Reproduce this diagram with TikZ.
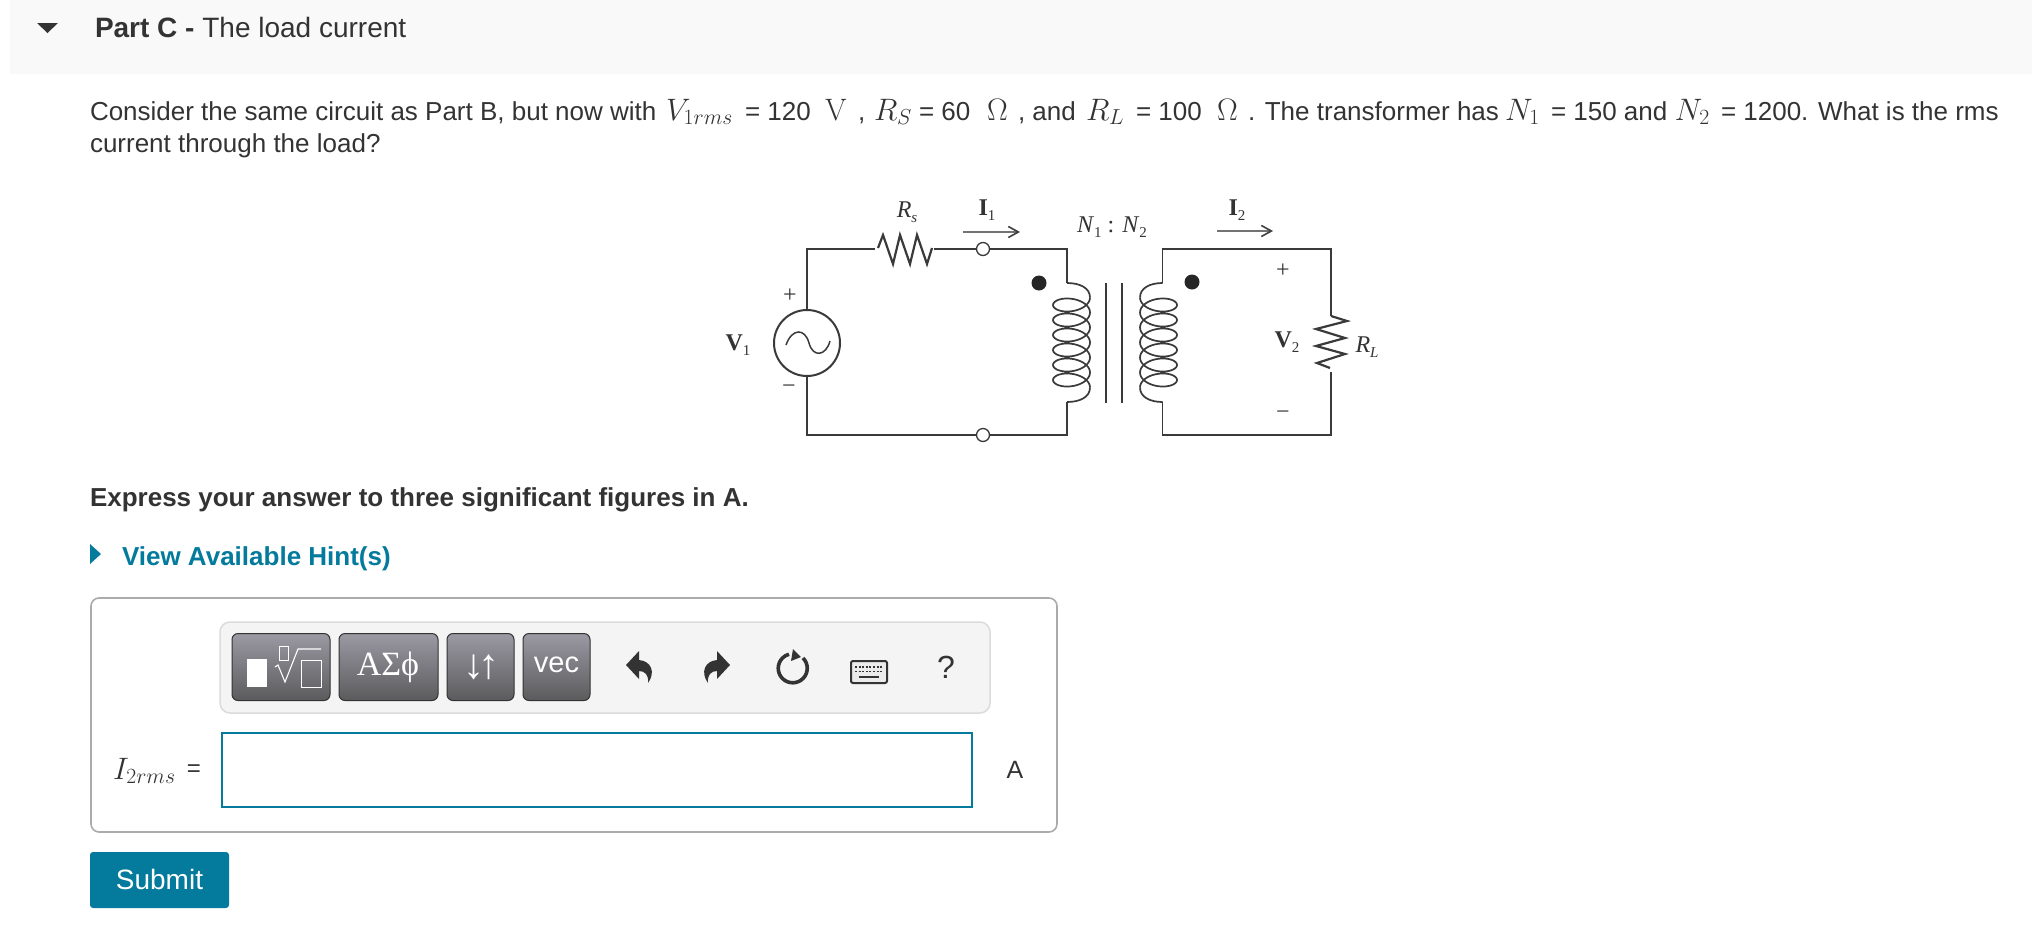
\RequirePackage{fix-cm}
\documentclass[tikz,border=0pt]{standalone}
\usepackage[no-math]{fontspec}
\setmainfont{Liberation Sans}
\newfontfamily\serifcirc{Liberation Serif}
\usetikzlibrary{arrows.meta}
\definecolor{ink}{HTML}{333333}
\definecolor{teal}{HTML}{047A9C}
\definecolor{wire}{HTML}{3A3A3A}
\definecolor{btop}{HTML}{9B99A3}
\definecolor{bbot}{HTML}{5B5B5D}
\newcommand{\fsz}[1]{\fontsize{#1}{#1}\selectfont}
\newcommand{\mth}[1]{{\fsz{31}$#1$}}
\newcommand{\pc}[2]{\makebox[#1pt][l]{#2}}
\newcommand{\sbs}[1]{\raisebox{-0.22em}{\fontsize{15}{15}\selectfont #1}}
\tikzset{
  txt/.style={anchor=base west,inner sep=0pt,outer sep=0pt,text=ink,font=\fsz{26}},
  ctext/.style={anchor=center,inner sep=0pt,outer sep=0pt,text=ink},
  clab/.style={ctext,font=\serifcirc\fsz{24}},
  wireline/.style={draw=wire,line width=1.7pt},
  term/.style={circle,draw=wire,fill=white,line width=1.3pt,minimum size=13pt,inner sep=0pt},
  blackdot/.style={circle,fill=black!85,minimum size=15pt,inner sep=0pt},
  source/.style={circle,draw=wire,fill=white,line width=2pt,minimum size=66pt,inner sep=0pt},
  curarrow/.style={draw=black!55,line width=1.6pt,-{Straight Barb[length=10pt,width=11pt,black!75]}},
  toolbtn/.style={draw=black!80,line width=1pt,rounded corners=6pt,top color=btop,bottom color=bbot},
  coilline/.style={draw=wire,line width=1.7pt},
  zigzag/.style={draw=wire,line width=2.2pt},
}
\begin{document}
\begin{tikzpicture}[x=1pt,y=-1pt]
\useasboundingbox (0,0) rectangle (2032,951);
\fill[white] (0,0) rectangle (2032,951);
% header
\fill[black!2.5] (10,0) rectangle (2032,74);
\fill[ink] (37,23) -- (58,23) -- (47.5,33) -- cycle;
\node[txt,font=\fsz{28}] (title) at (95,37) {\textbf{Part C -} The load current};
% question
\node[txt] (q1) at (90,120) {\pc{576}{Consider the same circuit as Part B, but now with}\pc{79}{\mth{V_{1rms}}}\pc{80}{= 120}\pc{33}{\mth{\mathrm{V}}}\pc{16}{,}\pc{45}{\mth{R_S}}\pc{68}{= 60}\pc{31}{\mth{\mathrm{\Omega}}}\pc{68}{, and}\pc{50}{\mth{R_L}}\pc{81}{= 100}\pc{31}{\mth{\mathrm{\Omega}}}\pc{257}{. The transformer has}\pc{46}{\mth{N_1}}\pc{124}{= 150 and}\pc{46}{\mth{N_2}}= 1200. What is the rms};
\node[txt] (q2) at (90,152) {current through the load?};
% circuit
\coordinate (tl) at (807,249);
\coordinate (bl) at (807,435);
\node[source] (src) at (807,343) {};
\draw[wire,line width=1.5pt] (786,345) .. controls (792,328) and (805,328) .. (809,343) .. controls (813,358) and (826,356) .. (830,341);
\node[term] (t1) at (983,249) {};
\node[term] (t2) at (983,435) {};
\coordinate (rsa) at (875,249);
\coordinate (rsb) at (934,249);
\coordinate (cla) at (1067,249);
\coordinate (clb) at (1067,283);
\coordinate (clc) at (1067,402);
\coordinate (cld) at (1067,435);
\coordinate (cra) at (1162.5,249);
\coordinate (crb) at (1162.5,283);
\coordinate (crc) at (1162.5,402);
\coordinate (crd) at (1162.5,435);
\coordinate (tr) at (1331,249);
\coordinate (br) at (1331,435);
\coordinate (rla) at (1331,316);
\coordinate (rlb) at (1331,372);
\draw[wireline] (src.north) -- (tl) -- (rsa);
\draw[wireline] (rsb) -- (t1) -- (cla) -- (clb);
\draw[wireline] (src.south) -- (bl) -- (t2);
\draw[wireline] (t2) -- (cld) -- (clc);
\draw[wireline] (crb) -- (cra) -- (tr) -- (rla);
\draw[wireline] (crc) -- (crd) -- (br) -- (rlb);
\draw[zigzag] (878,248) -- (883,235) -- (893,264) -- (900,235) -- (910,264) -- (917,235) -- (927,264) -- (932,248);
\draw[zigzag] (rla) -- (1347,321) -- (1316,329) -- (1345,338) -- (1316,346) -- (1345,354) -- (1317,363) -- (1330,368);
% coils
\draw[coilline] plot[smooth,domain=0:2160,samples=217,variable=\t] ({1071.5+18.5*cos(\t)},{297.5+\t/24+10*sin(\t)});
\draw[coilline] plot[smooth,domain=0:2160,samples=217,variable=\t] ({1158.5-18.5*cos(\t)},{297.5+\t/24+10*sin(\t)});
\draw[coilline] (clb) .. controls (1080,283) and (1090,288) .. (1090,297.5);
\draw[coilline] (clc) .. controls (1080,402) and (1090,397) .. (1090,387.5);
\draw[coilline] (crb) .. controls (1150,283) and (1140,288) .. (1140,297.5);
\draw[coilline] (crc) .. controls (1150,402) and (1140,397) .. (1140,387.5);
\coordinate (corea) at (1106,283);
\coordinate (coreb) at (1106,403);
\coordinate (corec) at (1122,283);
\coordinate (cored) at (1122,403);
\draw[wireline,line width=2pt] (corea) -- (coreb);
\draw[wireline,line width=2pt] (corec) -- (cored);
\node[blackdot] (d1) at (1039,283) {};
\node[blackdot] (d2) at (1192,282) {};
% circuit labels
\node[clab] (rs) at (907,212) {\textit{R}\sbs{\textit{s}}};
\node[clab] (i1) at (987,210) {\textbf{I}\sbs{1}};
\node[clab] (n) at (1112,227) {\textit{N}\sbs{1} : \textit{N}\sbs{2}};
\node[clab] (i2) at (1237,210) {\textbf{I}\sbs{2}};
\node[clab] (v1) at (738,345) {\textbf{V}\sbs{1}};
\node[clab] (v2) at (1287,342) {\textbf{V}\sbs{2}};
\node[clab] (rl) at (1367,347) {\textit{R}\sbs{\textit{L}}};
\node[clab] (p1) at (790,296) {+};
\node[clab] (m1) at (789,389) {−};
\node[clab] (p2) at (1283,271) {+};
\node[clab] (m2) at (1283,415) {−};
\coordinate (a1s) at (963,232);
\coordinate (a1e) at (1020,232);
\coordinate (a2s) at (1217,231);
\coordinate (a2e) at (1273,231);
\draw[curarrow] (a1s) -- (a1e);
\draw[curarrow] (a2s) -- (a2e);
% instructions
\node[txt,font=\bfseries\fsz{26}] (exp) at (90,506) {Express your answer to three significant figures in A.};
\fill[teal] (90,544) -- (101,554) -- (90,564) -- cycle;
\node[txt,font=\bfseries\fsz{26},text=teal] (hint) at (122,565) {View Available Hint(s)};
% answer box
\draw[draw=black!33,line width=1.6pt,rounded corners=8pt,fill=white] (91,598) rectangle (1057,832);
\draw[draw=black!14,line width=1.5pt,rounded corners=10pt,fill=black!4.5] (220,622) rectangle (990,713);
% buttons
\node[toolbtn,minimum width=98pt,minimum height=67pt,inner sep=0pt] (b1) at (281,667) {};
\node[toolbtn,minimum width=99pt,minimum height=67pt,inner sep=0pt] (b2) at (388.5,667) {};
\node[toolbtn,minimum width=67pt,minimum height=67pt,inner sep=0pt] (b3) at (480.5,667) {};
\node[toolbtn,minimum width=67pt,minimum height=67pt,inner sep=0pt] (b4) at (556.5,667) {};
\fill[white] (247,659) rectangle (267,687);
\draw[white,line width=1pt] (279,646) rectangle (288,660);
\draw[white,line width=1.1pt] (275,667) -- (278,665) -- (285,682) -- (298,649) -- (321,649);
\draw[white,line width=1pt] (301,660) rectangle (321,687);
\node[ctext,text=white,font=\serifcirc\fsz{34}] (t2b) at (388,667) {ΑΣ\char"03D5};
\node[ctext,text=white,font=\serifcirc\fsz{42}] (t3b) at (481,667) {↓\kern-6pt↑};
\node[ctext,text=white,font=\fsz{29}] (t4b) at (556.5,665) {vec};
% undo/redo
\fill[ink] (626,665) -- (639,651) -- (639,660) .. controls (651,661) and (656,672) .. (648,683) .. controls (649,675) and (645,671) .. (639,671) -- (639,679) -- cycle;
\fill[ink] (730,665) -- (717,651) -- (717,660) .. controls (705,661) and (700,672) .. (708,683) .. controls (707,675) and (711,671) .. (717,671) -- (717,679) -- cycle;
% reload
\draw[ink,line width=3.6pt] (803,658) arc [start angle=45,end angle=-255,radius=14.5pt];
\fill[ink] (793,649) -- (801,657) -- (791,661) -- cycle;
% keyboard
\draw[ink,line width=2pt,rounded corners=2pt,fill=black!8] (851,661) rectangle (887,683);
\draw[ink,line width=1.8pt,dash pattern=on 2pt off 1.6pt] (855,667) -- (883,667);
\draw[ink,line width=1.8pt,dash pattern=on 2pt off 1.6pt] (855,671.5) -- (883,671.5);
\draw[ink,line width=1.8pt] (859,677) -- (879,677);
\node[ctext,font=\fsz{32},text=ink] (help) at (946,667) {?};
% input row
\node[ctext,anchor=base west] (ivar) at (113,779) {\mth{I_{2rms}}};
\node[ctext,font=\fsz{24}] (eq) at (194,771) {=};
\draw[teal,line width=2pt,fill=white] (222,733) rectangle (972,807);
\node[ctext,font=\fsz{25}] (unit) at (1015,770) {A};
% submit
\fill[teal,rounded corners=3pt] (90,852) rectangle (229,908);
\node[ctext,text=white,font=\fsz{28}] (sub) at (159.5,879) {Submit};
\end{tikzpicture}
\end{document}
